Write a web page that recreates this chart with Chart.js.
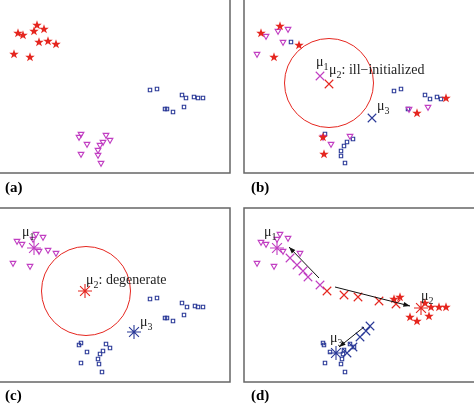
<!DOCTYPE html>
<html><head><meta charset="utf-8">
<script src="https://cdn.jsdelivr.net/npm/chart.js@4/dist/chart.umd.min.js"></script>
<style>html,body{margin:0;padding:0;background:#fff}#w{width:474px;height:407px}</style>
</head><body><div id="w"><canvas id="c"></canvas></div>
<script>
// point positions (figure units, y downward)
const aStars=[[18,33],[23,35],[37,25],[34,31],[44,29],[39,42],[48,41],[56,44],[14,54],[30,57]];
const aTris=[[81,134],[79,137],[87,144],[106,135],[110,140],[103,142],[100,145],[98,150],[81,154],[98,155],[101,163]];
const aSquares=[[150,90],[157,89],[182,95],[186,98],[194,97],[198,98],[203,98],[184,107],[165,109],[167,109],[173,112]];
const bStars=[[261,33],[280,26],[299,45],[274,57],[446,98],[417,113],[324,154],[323,137]];
const bTris=[[266,36],[278,31],[288,29],[283,42],[257,54],[409,109],[428,107],[350,136],[331,144],[323,137]];
const bSquares=[[291,42],[394,91],[401,89],[425,95],[430,99],[437,97],[441,99],[408,109],[325,134],[353,139],[347,142],[344,146],[341,151],[341,156],[345,163]];
const bMu=[[320,76],[329,84],[372,118]];
const cTris=[[17,241],[22,244],[36,234],[33,239],[43,237],[39,251],[48,250],[56,253],[13,263],[30,266]];
const cSquares=[[150,299],[157,298],[182,303],[187,307],[195,306],[198,307],[203,307],[184,315],[165,318],[167,318],[173,321],[81,343],[79,345],[87,352],[106,344],[110,348],[103,351],[100,354],[98,359],[81,363],[99,364],[102,372]];
const cMu=[[34,248],[85,291],[134,332]];
const dTris=[[261,242],[266,244],[280,234],[277,239],[288,238],[283,251],[300,253],[257,263],[274,266]];
const dStars=[[394,299],[400,297],[425,303],[431,307],[439,307],[446,307],[429,316],[410,317],[417,321]];
const dSquares=[[323,343],[324,345],[330,352],[350,344],[354,347],[344,350],[343,354],[342,359],[325,363],[341,364],[345,372]];
const dTrailM=[[290,258],[297,265],[303,271],[308,277],[320,285]];
const dTrailR=[[327,291],[344,295],[358,297],[379,301],[396,304]];
const dTrailB=[[370,326],[366,331],[360,337],[353,347],[347,353]];
const dMu=[[277,248],[421,308],[336,353]];
const circles=[[329,83,44.5],[86,291,44.5]];
const arrows=[[319,278,289,247],[335,287,410,306],[364,327,339,347]];
const labels=[["μ","1","",316,66],["μ","2",": ill−initialized",329,74],["μ","3","",377,110],
 ["μ","1","",22,236],["μ","2",": degenerate",86,284],["μ","3","",140,326],
 ["μ","1","",264,236],["μ","2","",421,300],["μ","3","",330,342]];
const panelLabels=[["(a)",5,192],["(b)",251,192],["(c)",5,400],["(d)",251,400]];
const frames=[[-2,-2,230,173],[244,-2,480,173],[-2,208,230,382],[244,208,480,382]];

const RED='#e5261f',MAG='#c13fc2',BLUE='#2b3a98';
function starImg(col){const c=document.createElement('canvas');c.width=10;c.height=10;const g=c.getContext('2d');g.fillStyle=col;g.beginPath();
 for(let i=0;i<10;i++){const r=i%2?2:5,a=-Math.PI/2+i*Math.PI/5;g.lineTo(5+r*Math.cos(a),5.3+r*Math.sin(a));}g.closePath();g.fill();return c;}
const SI=starImg(RED);
const P=a=>a.map(p=>({x:p[0],y:p[1]}));
function ds(data,style,col,extra){return Object.assign({data:P(data),pointStyle:style,borderColor:col,backgroundColor:'rgba(255,255,255,0)',pointRadius:3,pointBorderWidth:1.1,showLine:false},extra||{});}
const datasets=[
 ds(aStars,SI,RED),ds(bStars,SI,RED),ds(dStars,SI,RED),
 ds(aTris,'triangle',MAG,{rotation:180,pointRadius:3.3}),ds(bTris,'triangle',MAG,{rotation:180,pointRadius:3.3}),
 ds(cTris,'triangle',MAG,{rotation:180,pointRadius:3.3}),ds(dTris,'triangle',MAG,{rotation:180,pointRadius:3.3}),
 ds(aSquares,'rect',BLUE,{pointRadius:2.4}),ds(bSquares,'rect',BLUE,{pointRadius:2.4}),
 ds(cSquares,'rect',BLUE,{pointRadius:2.4}),ds(dSquares,'rect',BLUE,{pointRadius:2.4}),
 ds([bMu[0]],'crossRot',MAG,{pointRadius:6}),ds([bMu[1]],'crossRot',RED,{pointRadius:6}),ds([bMu[2]],'crossRot',BLUE,{pointRadius:6}),
 ds([cMu[0]],'star',MAG,{pointRadius:7}),ds([cMu[1]],'star',RED,{pointRadius:7}),ds([cMu[2]],'star',BLUE,{pointRadius:7}),
 ds(dTrailM,'crossRot',MAG,{pointRadius:6}),ds(dTrailR,'crossRot',RED,{pointRadius:6}),ds(dTrailB,'crossRot',BLUE,{pointRadius:6}),
 ds([dMu[0]],'star',MAG,{pointRadius:7}),ds([dMu[1]],'star',RED,{pointRadius:7}),ds([dMu[2]],'star',BLUE,{pointRadius:7})
];
const deco={id:'deco',
 beforeDatasetsDraw(ch){const g=ch.ctx,X=ch.scales.x,Y=ch.scales.y;g.save();
  g.strokeStyle='#666';g.lineWidth=1.5;
  frames.forEach(f=>{const x1=X.getPixelForValue(f[0]),y1=Y.getPixelForValue(f[1]),x2=X.getPixelForValue(f[2]),y2=Y.getPixelForValue(f[3]);g.strokeRect(x1,y1,x2-x1,y2-y1);});
  g.strokeStyle=RED;g.lineWidth=1;
  circles.forEach(c=>{g.beginPath();g.arc(X.getPixelForValue(c[0]),Y.getPixelForValue(c[1]),X.getPixelForValue(c[0]+c[2])-X.getPixelForValue(c[0]),0,2*Math.PI);g.stroke();});
  g.restore();},
 afterDatasetsDraw(ch){const g=ch.ctx,X=ch.scales.x,Y=ch.scales.y;g.save();
  g.strokeStyle='#111';g.fillStyle='#111';g.lineWidth=1;
  arrows.forEach(a=>{const x1=X.getPixelForValue(a[0]),y1=Y.getPixelForValue(a[1]),x2=X.getPixelForValue(a[2]),y2=Y.getPixelForValue(a[3]);
   g.beginPath();g.moveTo(x1,y1);g.lineTo(x2,y2);g.stroke();const an=Math.atan2(y2-y1,x2-x1);
   g.beginPath();g.moveTo(x2,y2);g.lineTo(x2-7*Math.cos(an-0.35),y2-7*Math.sin(an-0.35));g.lineTo(x2-7*Math.cos(an+0.35),y2-7*Math.sin(an+0.35));g.closePath();g.fill();});
  g.fillStyle='#222';g.textBaseline='alphabetic';
  labels.forEach(l=>{let x=X.getPixelForValue(l[3]),y=Y.getPixelForValue(l[4]);g.font='14px "Liberation Serif"';g.fillText(l[0],x,y);x+=g.measureText(l[0]).width;
   g.font='10px "Liberation Serif"';g.fillText(l[1],x,y+4);x+=g.measureText(l[1]).width;g.font='14px "Liberation Serif"';g.fillText(l[2],x,y);});
  g.font='bold 15px "Liberation Serif"';g.fillStyle='#000';
  panelLabels.forEach(p=>g.fillText(p[0],X.getPixelForValue(p[1]),Y.getPixelForValue(p[2])));
  g.restore();}};
new Chart(document.getElementById('c'),{type:'scatter',data:{datasets},plugins:[deco],
 options:{responsive:true,maintainAspectRatio:false,animation:false,layout:{padding:0,autoPadding:false},
  plugins:{legend:{display:false},tooltip:{enabled:false}},
  scales:{x:{type:'linear',min:0,max:474,display:false},y:{type:'linear',min:0,max:407,reverse:true,display:false}}}});
</script></body></html>
